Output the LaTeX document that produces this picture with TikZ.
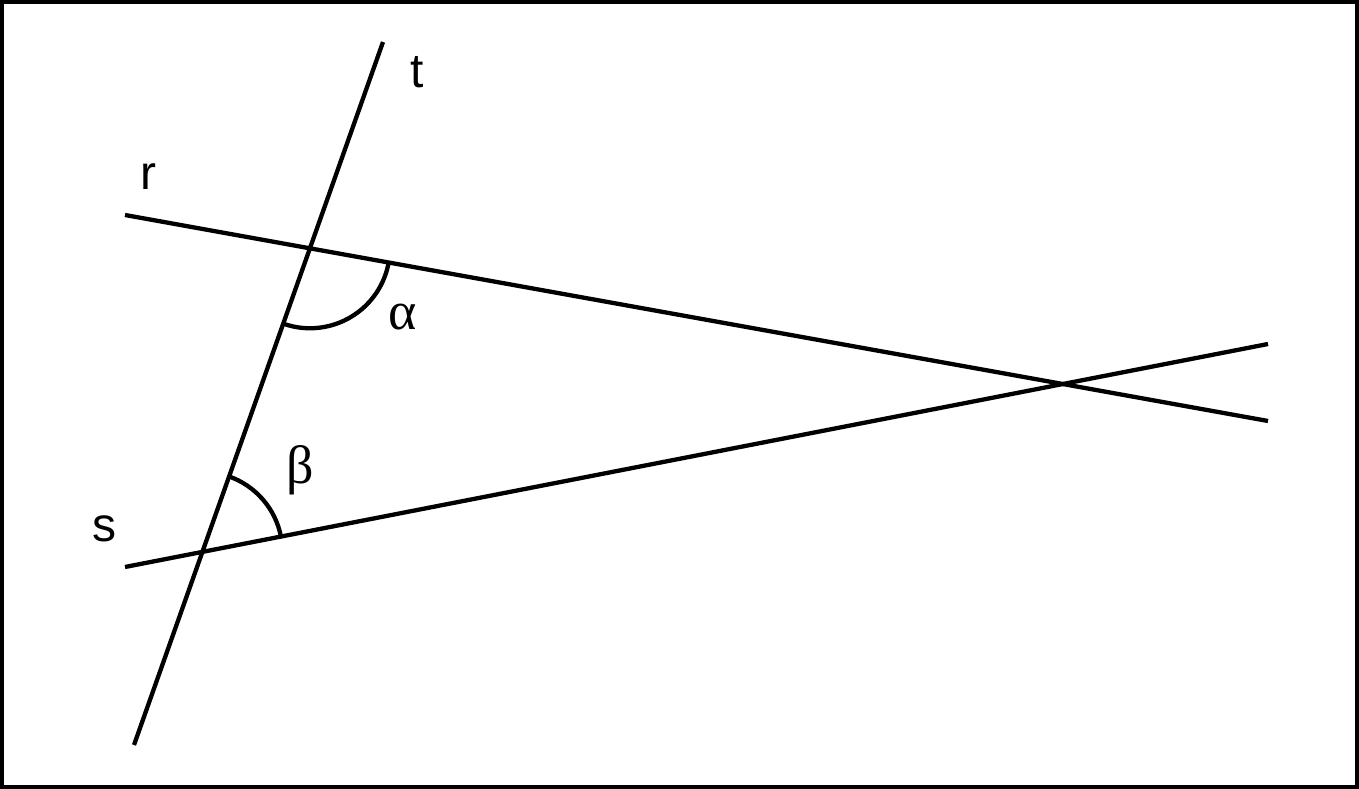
\documentclass[tikz,border=0pt]{standalone}
\usepackage{fontspec}
\setmainfont{Liberation Sans}
\newfontfamily\greekfont{Liberation Serif}
\usetikzlibrary{angles}
\begin{document}
\begin{tikzpicture}[x=1pt,y=1pt,
  geoline/.style={line width=4.3pt},
  anglearc/.style={draw,line width=4.3pt,angle radius=80pt},
  lbl/.style={anchor=base,inner sep=0pt,font=\fontsize{48}{48}\selectfont},
  glbl/.style={anchor=base,inner sep=0pt,font=\fontsize{54}{54}\selectfont\greekfont}]
\useasboundingbox (0,0) rectangle (1359,789);
\draw[line width=3.6pt] (1.8,1.8) rectangle (1357.2,787.2);
% line end points (y measured upward)
\coordinate (T1) at (134,44);
\coordinate (T2) at (383,747);
\coordinate (R1) at (125,574);
\coordinate (R2) at (1268,368);
\coordinate (S1) at (125,222);
\coordinate (S2) at (1268,445);
\coordinate (A) at (intersection of T1--T2 and R1--R2);
\coordinate (B) at (intersection of T1--T2 and S1--S2);
\draw[geoline] (T1) -- (T2);
\draw[geoline] (R1) -- (R2);
\draw[geoline] (S1) -- (S2);
\pic[anglearc] {angle = T1--A--R2};
\pic[anglearc] {angle = S2--B--T2};
\node[lbl] (lt) at (417,701) {t};
\node[lbl] (lr) at (148,599) {r};
\node[lbl] (ls) at (104,247) {s};
\node[glbl] (la) at (403,459) {α};
\node[glbl] (lb) at (300,305) {β};
\end{tikzpicture}
\end{document}
